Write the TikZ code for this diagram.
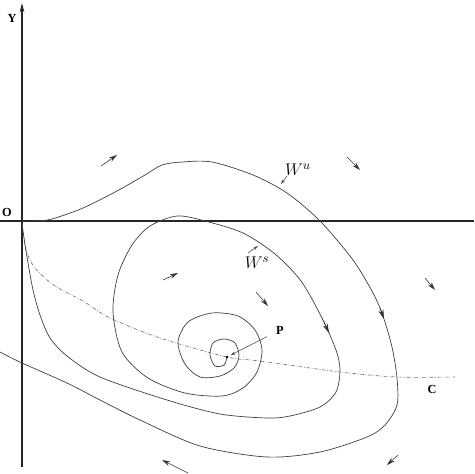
\documentclass[tikz,border=0pt]{standalone}
\usepackage{fontspec}
\setmainfont{Liberation Serif}
\usetikzlibrary{positioning}
\usetikzlibrary{arrows.meta}

\begin{document}
\begin{tikzpicture}[x=0.03cm, y=-0.03cm, >={Stealth[length=7pt,width=4pt]},
    axis/.style={draw=black!85, line width=1pt},
    orbit/.style={draw=black!75, line width=0.6pt},
    sep/.style={draw=black!60, line width=0.5pt, dash pattern=on 3pt off 1.5pt on 0.6pt off 1.5pt},
    field/.style={->, draw=black!80, line width=0.5pt},
    tip/.style={-{Stealth[length=8pt,width=4.5pt]}, draw=black!80, line width=0.6pt},
    pointer/.style={->, draw=black!70, line width=0.5pt, >={Stealth[length=4pt,width=2.5pt]}},
    letter/.style={font=\fontsize{10.5}{12}\selectfont\bfseries},
    manifold/.style={font=\fontsize{15}{18}\selectfont}]
  \useasboundingbox (0,0) rectangle (474,474);

  % axes
  \coordinate (O) at (22,221);
  \coordinate (ytop) at (22,3);
  \coordinate (ybot) at (22,467);
  \draw[axis, -{Stealth[length=8pt,width=4pt]}] (ybot) -- (ytop);
  \draw[axis] (0,221) -- (474,221);
  \node[letter] (lblY) at (12,18) {Y};
  \node[letter] (lblO) at (7,212) {O};

  % separatrix C
  \draw[sep] plot[smooth] coordinates {(22,225) (26,250) (35,268) (55,286) (83,301)
    (110,318) (160,338) (227,357) (260,361) (340,372) (397,377) (455,377)};
  \node[letter] (lblC) at (432,389) {C};

  % unstable manifold
  \draw[orbit] plot[smooth] coordinates {(22,221) (36,221) (52,219) (83,208) (117,191)
    (145,175) (162,165) (182,162) (212,162) (253,175) (287,193) (320,221) (353,260)
    (373,293) (383,316) (392,347) (397,378) (397,405) (385,425) (367,437) (320,452)
    (267,457) (200,446) (140,420) (100,400) (67,383) (22,363) (0,352)};
  \draw[tip] (380,308) -- (384,319);

  % stable manifold, spiralling out of P
  \draw[orbit] plot[smooth] coordinates {(227,357) (224,365) (215,366) (210,355) (213,343)
    (224,339) (235,343) (239,356) (234,368) (220,376) (200,377) (185,364) (178,342)
    (188,322) (212,313) (238,316) (255,330) (262,350) (257,372) (243,388) (222,396)
    (185,393) (148,378) (122,352) (113,312) (118,275) (132,245) (150,226) (177,216)
    (205,221) (243,233) (275,254) (301,281) (322,318) (336,350) (340,370) (336,392)
    (320,407) (290,416) (267,418) (220,414) (167,400) (100,377) (67,356) (50,338)
    (40,315) (33,290) (27,257) (24,238) (22,223)};
  \draw[tip] (324,322) -- (329,333);

  % focus
  \node[circle, fill=black, inner sep=0.9pt] (P) at (227,357) {};
  \node[letter] (lblP) at (280,330) {P};
  \path (lblP) edge[pointer, shorten <=5pt, shorten >=2pt] (P);

  % labels of the manifolds
  \node[manifold] (lblWu) at (298,170) {$W^u$};
  \coordinate (wutail) at (287,176);
  \coordinate (wuhead) at (281,184);
  \draw[pointer] (wutail) -- (wuhead);
  \node[manifold] (lblWs) at (257,263) {$W^s$};
  \coordinate (wstail) at (248,253);
  \coordinate (wshead) at (258,246);
  \draw[pointer] (wstail) -- (wshead);

  % direction field
  \foreach \xa/\ya/\xb/\yb in {101/166/117/155, 163/280/178/273, 347/157/360/170,
      425/278/435/290, 256/292/268/306, 398/455/387/465, 188/473/162/460}
    \draw[field] (\xa,\ya) -- (\xb,\yb);
\end{tikzpicture}
\end{document}
